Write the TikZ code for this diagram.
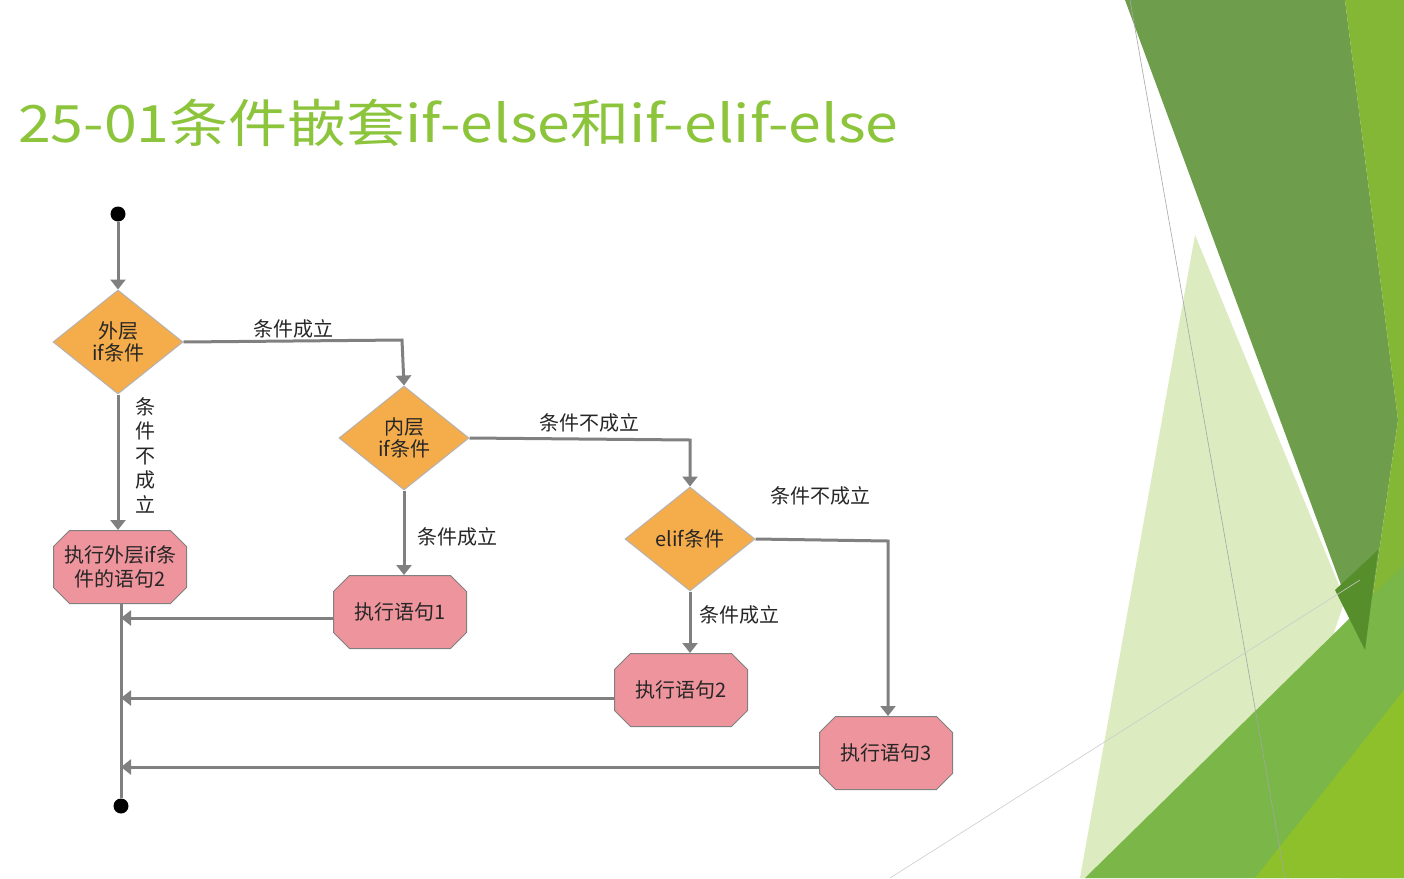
\documentclass[tikz,border=0pt]{standalone}
\usepackage{fontspec}
\setmainfont{Noto Sans CJK SC}
\usetikzlibrary{shapes.geometric,shapes.misc,arrows.meta}
\definecolor{dia}{HTML}{F5AC4A}
\definecolor{box}{HTML}{EE949C}
\definecolor{edge}{HTML}{808080}
\definecolor{ttl}{HTML}{8CC43C}
\definecolor{bgA}{HTML}{6E9E4C}
\definecolor{bgB}{HTML}{84B735}
\definecolor{bgC}{HTML}{DCEBC0}
\definecolor{bgD}{HTML}{7AB648}
\definecolor{bgE}{HTML}{558E2A}
\definecolor{bgF}{HTML}{8DC02A}
\tikzset{
  dec/.style={diamond,fill=dia,draw=edge!60,line width=1pt,minimum width=130pt,minimum height=104pt,aspect=1.25,inner sep=0pt,align=center,font=\fontsize{20}{22}\selectfont,text=black!85},
  act/.style={chamfered rectangle,chamfered rectangle xsep=8pt,chamfered rectangle ysep=8pt,fill=box,draw=edge,line width=1pt,minimum width=133pt,minimum height=73pt,inner sep=2pt,align=center,font=\fontsize{20}{24}\selectfont,text=black!85},
  dot/.style={circle,fill=black,minimum size=15pt,inner sep=0pt},
  flow/.style={draw=edge,line width=3pt,-{Triangle[length=10pt,width=15pt]}},
  plain/.style={draw=edge,line width=3pt},
  lbl/.style={font=\fontsize{20}{22}\selectfont,text=black!85,inner sep=0pt}
}
\begin{document}
\begin{tikzpicture}[x=1pt,y=-1pt]
\useasboundingbox (0,0) rectangle (1404,878);
\fill[white] (0,0) rectangle (1404,878);
% background
\fill[bgA] (1125,0) -- (1345,0) -- (1398,420) -- (1365,650) -- cycle;
\fill[bgB] (1345,0) -- (1404,0) -- (1404,878) -- (1340,878) -- (1365,650) -- (1398,420) -- cycle;
\fill[bgC] (1195,235) -- (1345,600) -- (1250,878) -- (1080,878) -- cycle;
\fill[bgD] (1085,878) -- (1404,565) -- (1404,878) -- cycle;
\fill[bgE] (1335,590) -- (1378,550) -- (1365,650) -- cycle;
\fill[bgF] (1255,878) -- (1404,690) -- (1404,878) -- cycle;
\draw[gray!70,line width=0.6pt] (1130,0) -- (1285,878);
\draw[gray!40,line width=0.6pt] (890,878) -- (1360,580);
% title
\node[anchor=west,text=ttl,font=\fontsize{50}{56}\selectfont,inner sep=0pt] (title) at (18,123) {\scalebox{1.18}[1.03]{25-01条件嵌套if-else和if-elif-else}};
% nodes
\node[dot] (s) at (118,214) {};
\node[dec] (d1) at (118,342) {外层\\if条件};
\node[dec] (d2) at (404,438) {内层\\if条件};
\node[dec] (d3) at (690,539) {elif条件};
\node[act] (b0) at (120,567) {执行外层if条\\件的语句2};
\node[act] (b1) at (400,612) {执行语句1};
\node[act] (b2) at (681,690) {执行语句2};
\node[act] (b3) at (886,753) {执行语句3};
\node[dot] (e) at (121,806) {};
\coordinate (c1) at (402,340);
\coordinate (c2) at (690,440);
\coordinate (c3) at (888,541);
\coordinate (m1) at (121,618);
\coordinate (m2) at (121,698);
\coordinate (m3) at (121,767);
% connectors
\draw[flow] (s) -- (d1.north);
\draw[flow] (d1.east) -- (c1) -- (d2.north);
\draw[flow] (d1.south) -- (b0.north -| d1.south);
\draw[flow] (d2.east) -- (c2) -- (d3.north);
\draw[flow] (d2.south) -- (b1.north -| d2.south);
\draw[flow] (d3.east) -- (c3) -- (b3.north -| c3);
\draw[flow] (d3.south) -- (b2.north -| d3.south);
\draw[plain] (b0.south -| e) -- (e);
\draw[flow] (b1.west |- m1) -- (m1);
\draw[flow] (b2.west |- m2) -- (m2);
\draw[flow] (b3.west |- m3) -- (m3);
% labels
\node[lbl] (l1) at (293,329) {条件成立};
\node[lbl,align=center,font=\fontsize{20}{24.5}\selectfont] (l2) at (145,455) {条\\件\\不\\成\\立};
\node[lbl] (l3) at (589,423) {条件不成立};
\node[lbl] (l4) at (457,537) {条件成立};
\node[lbl] (l5) at (820,496) {条件不成立};
\node[lbl] (l6) at (739,615) {条件成立};
\end{tikzpicture}
\end{document}
